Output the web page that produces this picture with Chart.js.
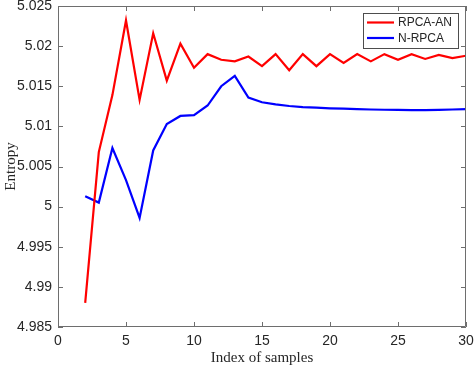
<!DOCTYPE html>
<html>
<head>
<meta charset="utf-8">
<script src="https://cdn.jsdelivr.net/npm/chart.js@4.4.1/dist/chart.umd.min.js"></script>
<style>
html,body{margin:0;padding:0;background:#fff;}
#wrap{width:474px;height:368px;position:relative;}
</style>
</head>
<body>
<div id="wrap"><canvas id="c" width="474" height="368"></canvas></div>
<script>
const samples = [2,3,4,5,6,7,8,9,10,11,12,13,14,15,16,17,18,19,20,21,22,23,24,25,26,27,28,29,30];
const rpcaAN = [4.9880,5.0068,5.0139,5.0232,5.0133,5.0216,5.0157,5.0203,5.0173,5.0190,5.0183,5.0181,5.0187,5.0175,5.0190,5.0170,5.0190,5.0175,5.0190,5.0179,5.0190,5.0181,5.0190,5.0183,5.0190,5.0184,5.0189,5.0185,5.0188];
const nRPCA = [5.0013,5.0005,5.0073,5.0033,4.9986,5.0070,5.0103,5.0113,5.0114,5.0126,5.0150,5.0163,5.0136,5.0130,5.01275,5.01254,5.01241,5.01233,5.01225,5.0122,5.01215,5.0121,5.01207,5.01205,5.01203,5.01202,5.01205,5.0121,5.01215];
const xTicks = [0,5,10,15,20,25,30];
const yTicks = [4.985,4.99,4.995,5,5.005,5.01,5.015,5.02,5.025];
const seriesNames = ['RPCA-AN','N-RPCA'];

const AXIS = '#6e6e6e';
const TXT = '#262626';

const framePlugin = {
  id:'frame',
  afterDatasetsDraw(chart){
    const {ctx, chartArea:a, scales:{x,y}} = chart;
    ctx.save();
    ctx.strokeStyle = AXIS;
    ctx.lineWidth = 1;
    ctx.beginPath();
    ctx.rect(a.left+0.5, a.top+0.5, a.right-a.left-1, a.bottom-a.top-1);
    const L = 5;
    xTicks.forEach(v=>{
      const px = Math.round(x.getPixelForValue(v))+0.5;
      ctx.moveTo(px,a.bottom); ctx.lineTo(px,a.bottom-L);
      ctx.moveTo(px,a.top); ctx.lineTo(px,a.top+L);
    });
    yTicks.forEach(v=>{
      const py = Math.round(y.getPixelForValue(v))+0.5;
      ctx.moveTo(a.left,py); ctx.lineTo(a.left+L,py);
      ctx.moveTo(a.right,py); ctx.lineTo(a.right-L,py);
    });
    ctx.stroke();
    // legend
    const bw = 95, bh = 35;
    const bx = a.right - 8 - bw, by = a.top + 7;
    ctx.fillStyle = '#fff';
    ctx.fillRect(bx,by,bw,bh);
    ctx.strokeStyle = '#4d4d4d';
    ctx.strokeRect(bx+0.5,by+0.5,bw,bh);
    ctx.font = '12px "Liberation Sans", Arial, sans-serif';
    ctx.textBaseline = 'middle';
    chart.data.datasets.forEach((ds,i)=>{
      const cy = by + 9.5 + i*15.5;
      ctx.strokeStyle = ds.borderColor;
      ctx.lineWidth = 2.2;
      ctx.beginPath();
      ctx.moveTo(bx+4, cy); ctx.lineTo(bx+31, cy);
      ctx.stroke();
      ctx.fillStyle = TXT;
      ctx.fillText(ds.label, bx+35, cy+0.5);
    });
    ctx.restore();
  }
};

new Chart(document.getElementById('c'), {
  type:'line',
  data:{
    datasets:[
      {label:seriesNames[0], data:samples.map((s,i)=>({x:s,y:rpcaAN[i]})), borderColor:'#ff0000', borderWidth:2.2, pointRadius:0, tension:0, fill:false},
      {label:seriesNames[1], data:samples.map((s,i)=>({x:s,y:nRPCA[i]})), borderColor:'#0000ff', borderWidth:2.2, pointRadius:0, tension:0, fill:false}
    ]
  },
  options:{
    responsive:false,
    animation:false,
    devicePixelRatio:1,
    layout:{padding:{top:6,right:8,left:0,bottom:0}},
    plugins:{legend:{display:false}, tooltip:{enabled:false}},
    scales:{
      x:{
        type:'linear', min:0, max:30,
        afterBuildTicks(s){ s.ticks = xTicks.map(v=>({value:v})); },
        afterFit(s){ s.height = 41; s.paddingLeft = 0; s.paddingRight = 0; },
        grid:{display:false, drawTicks:false},
        border:{display:false},
        ticks:{color:TXT, padding:6, maxRotation:0, autoSkip:false, font:{family:'"Liberation Sans", Arial, sans-serif', size:14}},
        title:{display:true, text:'Index of samples', color:TXT, padding:{top:0,bottom:1}, font:{family:'"Liberation Serif", "Times New Roman", serif', size:15}}
      },
      y:{
        type:'linear', min:4.985, max:5.025,
        afterBuildTicks(s){ s.ticks = yTicks.map(v=>({value:v})); },
        afterFit(s){ s.width = 58; s.paddingTop = 0; s.paddingBottom = 0; },
        grid:{display:false, drawTicks:false},
        border:{display:false},
        ticks:{color:TXT, padding:6, autoSkip:false, font:{family:'"Liberation Sans", Arial, sans-serif', size:14},
          callback:(v)=>String(parseFloat(Number(v).toFixed(3)))},
        title:{display:true, text:'Entropy', color:TXT, padding:{top:2,bottom:0}, font:{family:'"Liberation Serif", "Times New Roman", serif', size:15}}
      }
    }
  },
  plugins:[framePlugin]
});
</script>
</body>
</html>
